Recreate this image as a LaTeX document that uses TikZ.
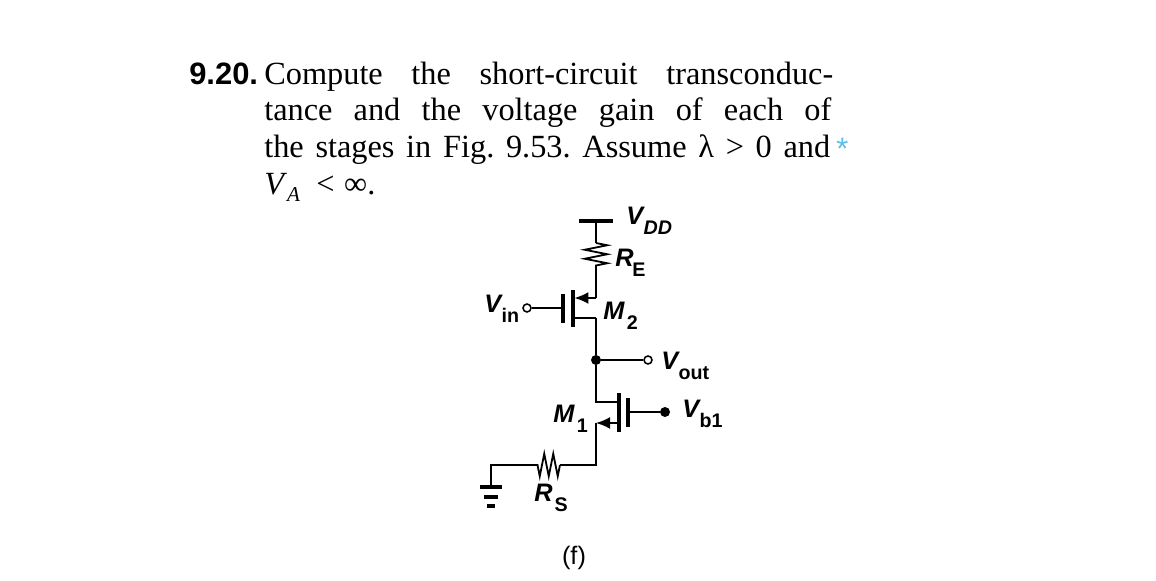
\documentclass[tikz,border=0pt]{standalone}
\usepackage{fontspec}
\setmainfont{Liberation Serif}
\setsansfont{Liberation Sans}
\usetikzlibrary{arrows.meta, decorations.pathmorphing}

\definecolor{starblue}{RGB}{90,190,235}
\newcommand{\lbltext}[2]{\textit{#1}\kern-.05em\raisebox{-.36em}{\fontsize{14pt}{14pt}\selectfont #2}}

\tikzset{
  wire/.style={line width=1.3pt},
  platebar/.style={line width=2.6pt},
  srcarrow/.style={wire, -{Latex[length=10pt,width=8.5pt]}},
  resistor/.style={wire, decorate, decoration={zigzag, amplitude=0.28cm, segment length=0.225cm}},
  opendot/.style={circle, draw, line width=1.1pt, fill=white, inner sep=0pt, minimum size=0.2cm},
  fulldot/.style={circle, fill=black, inner sep=0pt, minimum size=0.25cm},
  bodytext/.style={anchor=base west, inner sep=0pt, font=\fontsize{23pt}{23pt}\selectfont},
  label/.style={anchor=base west, inner sep=0pt, font=\sffamily\bfseries\fontsize{18pt}{18pt}\selectfont}
}

\begin{document}
\begin{tikzpicture}
\useasboundingbox (0,0) rectangle (28.9,14.525);
\frenchspacing

% The problem text
\node [bodytext, font=\sffamily\bfseries\fontsize{22pt}{22pt}\selectfont] (num) at (4.725,12.4) {9.20.};
\node [bodytext] (line1) at (6.6,12.4) {\hbox to 14.225cm{Compute the short-circuit transconduc-}};
\node [bodytext] (line2) at (6.6,11.5) {\hbox to 14.175cm{tance and the voltage gain of each of}};
\node [bodytext] (line3) at (6.6,10.575) {\hbox to 14.15cm{the stages in Fig. 9.53. Assume λ > 0 and}};
\node [bodytext] (line4) at (6.6,9.65) {\textit{V}\raisebox{-.2em}{\fontsize{15pt}{15pt}\selectfont\textit{A}}\hspace{.25em} < \hspace{.05em}∞.};
\node [bodytext, text=starblue, font=\sffamily\fontsize{22pt}{22pt}\selectfont] (star) at (20.9,10.53) {*};

% Supply and load resistor
\coordinate (vddl) at (14.475,9.0);
\coordinate (vddr) at (15.325,9.0);
\coordinate (vddc) at (14.9,9.0);
\coordinate (retop) at (14.9,8.45);
\coordinate (rebot) at (14.9,7.775);
\draw [platebar] (vddl) -- (vddr);
\draw [wire] (vddc) -- (retop);
\draw [resistor] (retop) -- (rebot);

% M2
\coordinate (m2src) at (14.9,7.075);
\coordinate (m2srcend) at (14.36,7.075);
\coordinate (m2top) at (14.325,7.275);
\coordinate (m2bot) at (14.325,6.35);
\coordinate (m2gtop) at (14.075,7.175);
\coordinate (m2gbot) at (14.075,6.45);
\coordinate (m2g) at (14.075,6.825);
\coordinate (m2dr) at (14.325,6.575);
\coordinate (m2drc) at (14.9,6.575);
\node [opendot] (vin) at (13.175,6.825) {};
\draw [wire] (rebot) -- (m2src);
\draw [srcarrow] (m2src) -- (m2srcend);
\draw [platebar] (m2top) -- (m2bot);
\draw [platebar] (m2gtop) -- (m2gbot);
\draw [wire] (vin) -- (m2g);
\draw [wire] (m2dr) -- (m2drc);

% Output
\node [fulldot] (out) at (14.9,5.525) {};
\node [opendot] (vout) at (16.2,5.525) {};
\draw [wire] (m2drc) -- (out);
\draw [wire] (out) -- (vout);

% M1
\coordinate (m1dr) at (14.9,4.475);
\coordinate (m1drend) at (15.475,4.475);
\coordinate (m1top) at (15.475,4.7);
\coordinate (m1bot) at (15.475,3.725);
\coordinate (m1gtop) at (15.7,4.575);
\coordinate (m1gbot) at (15.7,3.85);
\coordinate (m1g) at (15.7,4.225);
\coordinate (m1srcin) at (15.475,3.95);
\coordinate (m1src) at (14.9,3.95);
\node [fulldot] (vb) at (16.625,4.225) {};
\draw [wire] (out) -- (m1dr) -- (m1drend);
\draw [platebar] (m1top) -- (m1bot);
\draw [platebar] (m1gtop) -- (m1gbot);
\draw [wire] (m1g) -- (vb);
\draw [srcarrow] (m1srcin) -- (m1src);

% Source resistor and ground
\coordinate (rscorner) at (14.9,2.9);
\coordinate (rsr) at (14.0,2.9);
\coordinate (rsl) at (13.325,2.9);
\coordinate (gndc) at (12.275,2.9);
\coordinate (gnd) at (12.275,2.35);
\coordinate (gnd1l) at (12.0,2.35);
\coordinate (gnd1r) at (12.55,2.35);
\coordinate (gnd2l) at (12.1,2.1);
\coordinate (gnd2r) at (12.45,2.1);
\coordinate (gnd3l) at (12.175,1.875);
\coordinate (gnd3r) at (12.375,1.875);
\draw [wire] (m1src) -- (rscorner) -- (rsr);
\draw [resistor] (rsr) -- (rsl);
\draw [wire] (rsl) -- (gndc) -- (gnd);
\draw [platebar] (gnd1l) -- (gnd1r);
\draw [platebar] (gnd2l) -- (gnd2r);
\draw [platebar] (gnd3l) -- (gnd3r);

% Labels
\node [label] (vddlabel) at (15.65,8.9) {\lbltext{V}{\textit{DD}}};
\node [label] (relabel) at (15.375,7.85) {\lbltext{R}{E}};
\node [label] (m2label) at (15.075,6.525) {\lbltext{M}{\,2}};
\node [label] (vinlabel) at (12.1,6.7) {\lbltext{V}{in}};
\node [label] (voutlabel) at (16.525,5.275) {\lbltext{V}{out}};
\node [label] (vblabel) at (17.05,4.075) {\lbltext{V}{b1}};
\node [label] (m1label) at (13.825,3.95) {\lbltext{M}{\,1}};
\node [label] (rslabel) at (13.35,1.975) {\lbltext{R}{\,S}};
\node [anchor=base, inner sep=0pt, font=\sffamily\fontsize{18pt}{18pt}\selectfont] (caption) at (14.35,0.4) {(f)};

\end{tikzpicture}
\end{document}
